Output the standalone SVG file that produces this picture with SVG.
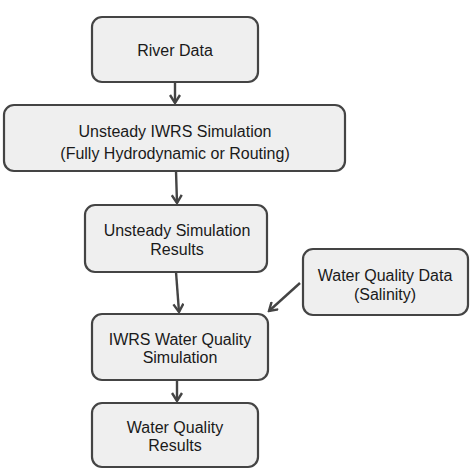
<svg xmlns="http://www.w3.org/2000/svg" width="474" height="474" viewBox="0 0 474 474">
<style>
.box{fill:#efefef;stroke:#444;stroke-width:2.2}
.t{font-family:"Liberation Sans",Arial,sans-serif;font-size:16px;fill:#1a1a1a;text-anchor:middle}
.c{stroke:#444;stroke-width:2.4;fill:none}
</style>
<defs>
<marker id="ah" viewBox="0 0 12 12" refX="10" refY="6" markerWidth="12" markerHeight="12" markerUnits="userSpaceOnUse" orient="auto">
<path d="M2,1 L10,6 L2,11" fill="none" stroke="#444" stroke-width="2.4"/>
</marker>
</defs>
<rect width="474" height="474" fill="#fff"/>
<g id="connectors">
<line class="c" x1="175" y1="82" x2="175" y2="103" marker-end="url(#ah)"/>
<line class="c" x1="176" y1="171" x2="177" y2="203" marker-end="url(#ah)"/>
<line class="c" x1="176" y1="272" x2="179" y2="312" marker-end="url(#ah)"/>
<line class="c" x1="300" y1="283" x2="269" y2="311" marker-end="url(#ah)"/>
<line class="c" x1="177" y1="380" x2="177" y2="401" marker-end="url(#ah)"/>
</g>
<g id="river-data">
<rect class="box" x="92" y="17" width="166" height="65" rx="10"/>
<text class="t" x="175" y="56">River Data</text>
</g>
<g id="unsteady-iwrs">
<rect class="box" x="4" y="105" width="341" height="66" rx="10"/>
<text class="t" x="175" y="137">Unsteady IWRS Simulation</text>
<text class="t" x="175" y="159">(Fully Hydrodynamic or Routing)</text>
</g>
<g id="unsteady-results">
<rect class="box" x="85" y="205" width="182" height="67" rx="10"/>
<text class="t" x="177" y="236">Unsteady Simulation</text>
<text class="t" x="177" y="255">Results</text>
</g>
<g id="wq-data">
<rect class="box" x="303" y="249" width="165" height="66" rx="10"/>
<text class="t" x="385" y="281">Water Quality Data</text>
<text class="t" x="385" y="300">(Salinity)</text>
</g>
<g id="iwrs-wq">
<rect class="box" x="92" y="314" width="176" height="66" rx="10"/>
<text class="t" x="180" y="345">IWRS Water Quality</text>
<text class="t" x="180" y="363">Simulation</text>
</g>
<g id="wq-results">
<rect class="box" x="92" y="403" width="166" height="64" rx="10"/>
<text class="t" x="175" y="433">Water Quality</text>
<text class="t" x="175" y="451">Results</text>
</g>
</svg>
